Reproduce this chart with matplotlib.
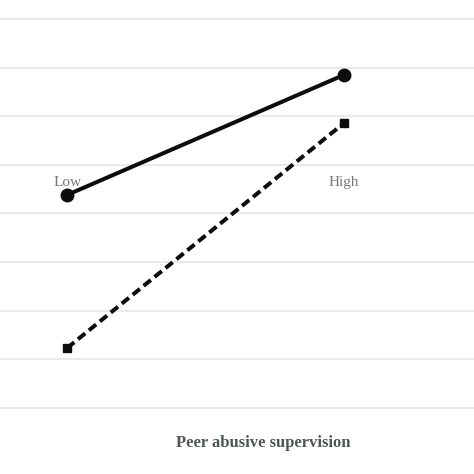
import numpy as np
import matplotlib
matplotlib.use("Agg")
import matplotlib.pyplot as plt

# x categories and two simple-slope lines (values in gridline units)
levels = ["Low", "High"]
solid_vals = [4.38, 6.85]
dashed_vals = [1.23, 5.86]
grid_vals = [0, 1, 2, 3, 4, 5, 6, 7, 8]
x_title = "Peer abusive supervision"

fig = plt.figure(figsize=(4.74, 4.74), dpi=100)
ax = fig.add_axes([0, 0, 1, 1])
ax.set_xlim(-0.242, 1.469)
ax.set_ylim(-1.36, 8.39)

for g in grid_vals:
    ax.axhline(g, color="#e8e8e8", lw=1.3, zorder=0)

xs = np.arange(len(levels))
ax.plot(xs, solid_vals, color="#0d0d0d", lw=2.9, marker="o", ms=9, solid_capstyle="round")
ax.plot(xs, dashed_vals, color="#0d0d0d", lw=2.9, ls=(0, (2.3, 1.2)), marker="s", ms=5.5)

for x, lab in zip(xs, levels):
    ax.text(x, 4.63, lab, ha="center", va="center", color="#777777",
            family="Liberation Serif", fontsize=11)

ax.text(0.708, -0.72, x_title, ha="center", va="center", color="#4d5555",
        family="Liberation Serif", fontsize=12, fontweight="bold")

ax.axis("off")
fig.savefig("out.png", dpi=100)
